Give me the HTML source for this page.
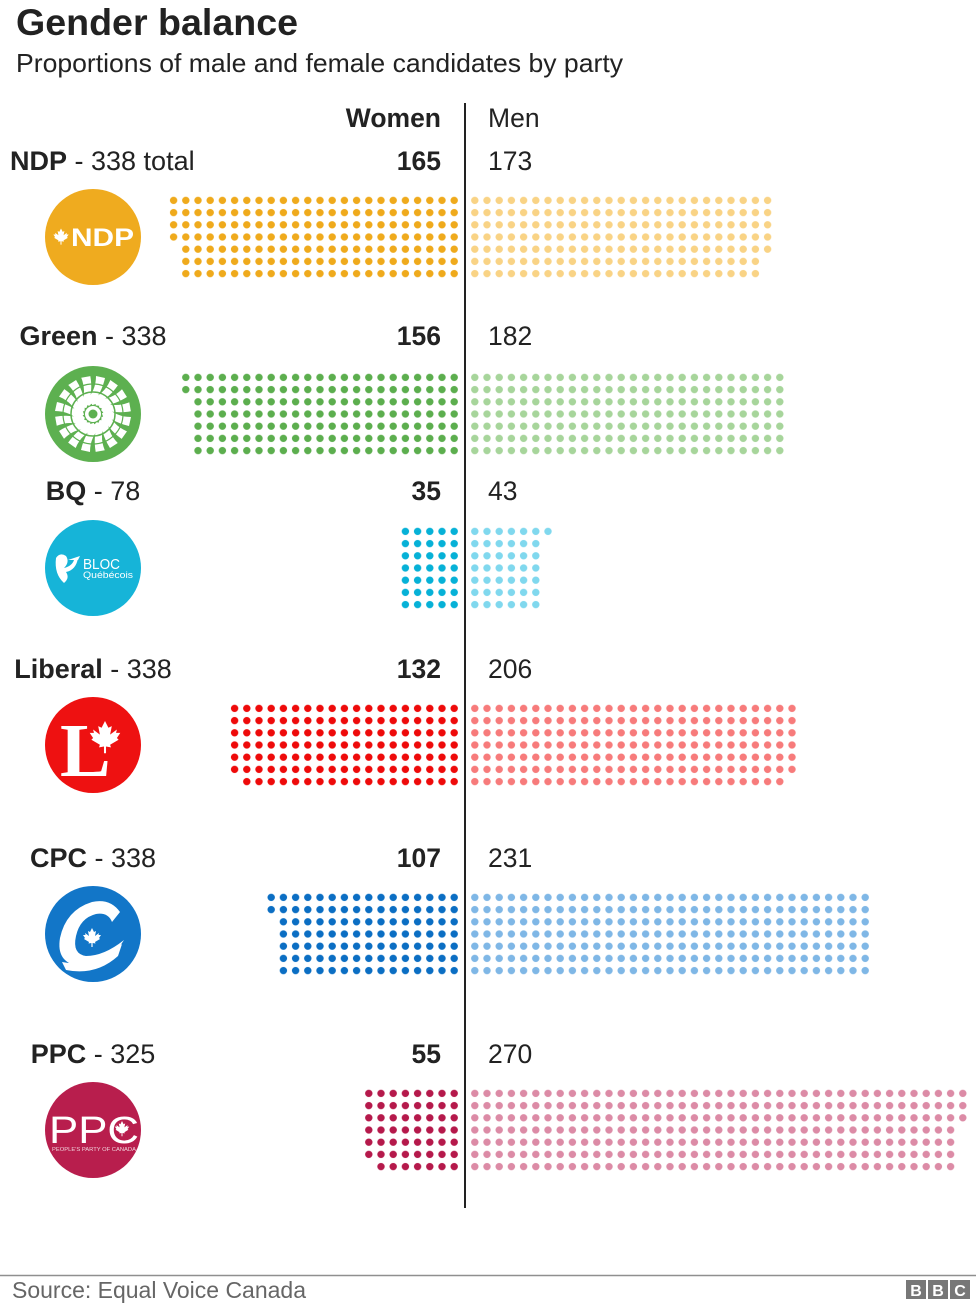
<!DOCTYPE html>
<html>
<head>
<meta charset="utf-8">
<style>
html,body{margin:0;padding:0;background:#fff;}
svg{display:block;}
text{font-family:"Liberation Sans",Arial,sans-serif;}
</style>
</head>
<body>
<svg width="976" height="1311" viewBox="0 0 976 1311" xmlns="http://www.w3.org/2000/svg">
<defs>
  <pattern id="ndpW" width="12.2" height="12.2" patternUnits="userSpaceOnUse"><circle cx="6.1" cy="6.1" r="3.7" fill="#EFAA1C"/></pattern>
  <pattern id="ndpM" width="12.2" height="12.2" patternUnits="userSpaceOnUse"><circle cx="6.1" cy="6.1" r="3.7" fill="#F9D385"/></pattern>
  <pattern id="grnW" width="12.2" height="12.2" patternUnits="userSpaceOnUse"><circle cx="6.1" cy="6.1" r="3.7" fill="#5CAE4E"/></pattern>
  <pattern id="grnM" width="12.2" height="12.2" patternUnits="userSpaceOnUse"><circle cx="6.1" cy="6.1" r="3.7" fill="#A7D59B"/></pattern>
  <pattern id="bqW" width="12.2" height="12.2" patternUnits="userSpaceOnUse"><circle cx="6.1" cy="6.1" r="3.7" fill="#06B1D7"/></pattern>
  <pattern id="bqM" width="12.2" height="12.2" patternUnits="userSpaceOnUse"><circle cx="6.1" cy="6.1" r="3.7" fill="#80D8EE"/></pattern>
  <pattern id="libW" width="12.2" height="12.2" patternUnits="userSpaceOnUse"><circle cx="6.1" cy="6.1" r="3.7" fill="#EE0A0A"/></pattern>
  <pattern id="libM" width="12.2" height="12.2" patternUnits="userSpaceOnUse"><circle cx="6.1" cy="6.1" r="3.7" fill="#F77B7B"/></pattern>
  <pattern id="cpcW" width="12.2" height="12.2" patternUnits="userSpaceOnUse"><circle cx="6.1" cy="6.1" r="3.7" fill="#0B6EC3"/></pattern>
  <pattern id="cpcM" width="12.2" height="12.2" patternUnits="userSpaceOnUse"><circle cx="6.1" cy="6.1" r="3.7" fill="#7FB7E6"/></pattern>
  <pattern id="ppcW" width="12.2" height="12.2" patternUnits="userSpaceOnUse"><circle cx="6.1" cy="6.1" r="3.7" fill="#B5194B"/></pattern>
  <pattern id="ppcM" width="12.2" height="12.2" patternUnits="userSpaceOnUse"><circle cx="6.1" cy="6.1" r="3.7" fill="#DC8BA6"/></pattern>
  <path id="leaf" d="M0,-10 L2,-6 L4,-7 L3,-2 L7,-5 L6.5,-3 L9,-3 L7,0 L8,1 L3,4 L3.5,5.5 L0.6,5 L0.6,9 L-0.6,9 L-0.6,5 L-3.5,5.5 L-3,4 L-8,1 L-7,0 L-9,-3 L-6.5,-3 L-7,-5 L-3,-2 L-4,-7 L-2,-6 Z" fill="#fff"/>
  <path id="petal" d="M-4,-8 Q8,-18 12,-36 L3,-38 Q3,-22 -9,-12 Z" fill="#fff"/>
</defs>

<!-- Title -->
<text x="16" y="35" font-size="37" font-weight="bold" fill="#222" textLength="282" lengthAdjust="spacingAndGlyphs">Gender balance</text>
<text x="16" y="72" font-size="26" fill="#222" textLength="607" lengthAdjust="spacingAndGlyphs">Proportions of male and female candidates by party</text>

<!-- Column headers -->
<text x="441" y="127" font-size="26.5" font-weight="bold" fill="#222" text-anchor="end">Women</text>
<text x="488" y="127" font-size="26.5" fill="#222">Men</text>

<!-- Center line -->
<line x1="465" y1="103" x2="465" y2="1208" stroke="#222" stroke-width="2"/>

<!-- NDP -->
<text x="10" y="170" font-size="27" fill="#222"><tspan font-weight="bold">NDP</tspan> - 338 total</text>
<text x="441" y="170" font-size="26.5" font-weight="bold" fill="#222" text-anchor="end">165</text>
<text x="488" y="170" font-size="26.5" fill="#222">173</text>
<circle cx="93" cy="237" r="48" fill="#EFAB1F"/>
<use href="#leaf" transform="translate(61,237) scale(0.85)"/>
<text x="71" y="246" font-size="25" font-weight="bold" fill="#fff" textLength="63" lengthAdjust="spacingAndGlyphs">NDP</text>
<g transform="translate(448.1,194.3)">
  <rect x="-268.4" y="0" width="280.6" height="85.4" fill="url(#ndpW)"/>
  <rect x="-280.6" y="0" width="12.2" height="48.8" fill="url(#ndpW)"/>
</g>
<g transform="translate(468.7,194.3)">
  <rect x="0" y="0" width="292.8" height="85.4" fill="url(#ndpM)"/>
  <rect x="292.8" y="0" width="12.2" height="61" fill="url(#ndpM)"/>
</g>

<!-- Green -->
<text x="93" y="345" font-size="27" fill="#222" text-anchor="middle"><tspan font-weight="bold">Green</tspan> - 338</text>
<text x="441" y="345" font-size="26.5" font-weight="bold" fill="#222" text-anchor="end">156</text>
<text x="488" y="345" font-size="26.5" fill="#222">182</text>
<circle cx="93" cy="414" r="48" fill="#5DB050"/>
<g transform="translate(93,414)">
  <use href="#petal" transform="rotate(0)"/>
  <use href="#petal" transform="rotate(22.5)"/>
  <use href="#petal" transform="rotate(45)"/>
  <use href="#petal" transform="rotate(67.5)"/>
  <use href="#petal" transform="rotate(90)"/>
  <use href="#petal" transform="rotate(112.5)"/>
  <use href="#petal" transform="rotate(135)"/>
  <use href="#petal" transform="rotate(157.5)"/>
  <use href="#petal" transform="rotate(180)"/>
  <use href="#petal" transform="rotate(202.5)"/>
  <use href="#petal" transform="rotate(225)"/>
  <use href="#petal" transform="rotate(247.5)"/>
  <use href="#petal" transform="rotate(270)"/>
  <use href="#petal" transform="rotate(292.5)"/>
  <use href="#petal" transform="rotate(315)"/>
  <use href="#petal" transform="rotate(337.5)"/>
  <circle cx="0" cy="0" r="8" fill="#fff"/>
  <circle cx="0" cy="0" r="4.5" fill="#5DB050"/>
  <circle cx="0" cy="0" r="22" fill="none" stroke="#5DB050" stroke-width="1.5"/>
  <circle cx="0" cy="0" r="30" fill="none" stroke="#5DB050" stroke-width="1.2"/>
</g>
<g transform="translate(448.1,371.3)">
  <rect x="-256.2" y="0" width="268.4" height="85.4" fill="url(#grnW)"/>
  <rect x="-268.4" y="0" width="12.2" height="24.4" fill="url(#grnW)"/>
</g>
<g transform="translate(468.7,371.3)">
  <rect x="0" y="0" width="317.2" height="85.4" fill="url(#grnM)"/>
</g>

<!-- BQ -->
<text x="93" y="500" font-size="27" fill="#222" text-anchor="middle"><tspan font-weight="bold">BQ</tspan> - 78</text>
<text x="441" y="500" font-size="26.5" font-weight="bold" fill="#222" text-anchor="end">35</text>
<text x="488" y="500" font-size="26.5" fill="#222">43</text>
<circle cx="93" cy="568" r="48" fill="#16B4D8"/>
<path d="M56,558 Q60,552 66,556 Q70,562 64,568 Q72,566 74,560 L78,558 Q76,570 66,572 Q70,578 64,583 Q54,574 56,558 Z" fill="#fff"/>
<path d="M68,560 L80,556 L78,560 Z" fill="#fff"/>
<text x="83" y="569" font-size="15" fill="#fff" textLength="37" lengthAdjust="spacingAndGlyphs">BLOC</text>
<text x="83" y="578" font-size="9" fill="#fff" textLength="50" lengthAdjust="spacingAndGlyphs">Québécois</text>
<g transform="translate(448.1,525.3)">
  <rect x="-48.8" y="0" width="61" height="85.4" fill="url(#bqW)"/>
</g>
<g transform="translate(468.7,525.3)">
  <rect x="0" y="0" width="73.2" height="85.4" fill="url(#bqM)"/>
  <rect x="73.2" y="0" width="12.2" height="12.2" fill="url(#bqM)"/>
</g>

<!-- Liberal -->
<text x="93" y="678" font-size="27" fill="#222" text-anchor="middle"><tspan font-weight="bold">Liberal</tspan> - 338</text>
<text x="441" y="678" font-size="26.5" font-weight="bold" fill="#222" text-anchor="end">132</text>
<text x="488" y="678" font-size="26.5" fill="#222">206</text>
<circle cx="93" cy="745" r="48" fill="#EE1111"/>
<text x="60" y="776" font-size="76" font-weight="bold" fill="#fff" style="font-family:'Liberation Serif',serif">L</text>
<use href="#leaf" transform="translate(105,738) scale(1.7)"/>
<g transform="translate(448.1,702.3)">
  <rect x="-207.4" y="0" width="219.6" height="85.4" fill="url(#libW)"/>
  <rect x="-219.6" y="0" width="12.2" height="73.2" fill="url(#libW)"/>
</g>
<g transform="translate(468.7,702.3)">
  <rect x="0" y="0" width="317.2" height="85.4" fill="url(#libM)"/>
  <rect x="317.2" y="0" width="12.2" height="73.2" fill="url(#libM)"/>
</g>

<!-- CPC -->
<text x="93" y="867" font-size="27" fill="#222" text-anchor="middle"><tspan font-weight="bold">CPC</tspan> - 338</text>
<text x="441" y="867" font-size="26.5" font-weight="bold" fill="#222" text-anchor="end">107</text>
<text x="488" y="867" font-size="26.5" fill="#222">231</text>
<circle cx="93" cy="934" r="48" fill="#1276C8"/>
<path d="M120,912 Q110,898 92,902 Q66,910 60,938 Q56,962 78,966 Q98,968 116,952 L124,940 Q104,956 86,956 Q72,954 76,936 Q80,918 96,914 Q108,912 112,922 Z" fill="#fff"/>
<path d="M62,962 Q90,968 122,944 L118,956 Q96,976 66,970 Z" fill="#fff"/>
<use href="#leaf" transform="translate(92,938) scale(1.0)"/>
<g transform="translate(448.1,891.3)">
  <rect x="-170.8" y="0" width="183" height="85.4" fill="url(#cpcW)"/>
  <rect x="-183" y="0" width="12.2" height="24.4" fill="url(#cpcW)"/>
</g>
<g transform="translate(468.7,891.3)">
  <rect x="0" y="0" width="402.6" height="85.4" fill="url(#cpcM)"/>
</g>

<!-- PPC -->
<text x="93" y="1063" font-size="27" fill="#222" text-anchor="middle"><tspan font-weight="bold">PPC</tspan> - 325</text>
<text x="441" y="1063" font-size="26.5" font-weight="bold" fill="#222" text-anchor="end">55</text>
<text x="488" y="1063" font-size="26.5" fill="#222">270</text>
<circle cx="93" cy="1130" r="48" fill="#B81E4D"/>
<text x="49" y="1143" font-size="38" fill="#fff" textLength="90" lengthAdjust="spacingAndGlyphs">PPC</text>
<use href="#leaf" transform="translate(122,1129) scale(0.8)"/>
<text x="52" y="1151" font-size="5" fill="#fff" textLength="84" lengthAdjust="spacingAndGlyphs" opacity="0.8">PEOPLE'S PARTY OF CANADA</text>
<g transform="translate(448.1,1087.3)">
  <rect x="-73.2" y="0" width="85.4" height="85.4" fill="url(#ppcW)"/>
  <rect x="-85.4" y="0" width="12.2" height="73.2" fill="url(#ppcW)"/>
</g>
<g transform="translate(468.7,1087.3)">
  <rect x="0" y="0" width="488" height="85.4" fill="url(#ppcM)"/>
  <rect x="488" y="0" width="12.2" height="36.6" fill="url(#ppcM)"/>
</g>

<!-- Footer -->
<line x1="0" y1="1275.5" x2="976" y2="1275.5" stroke="#8f8f8f" stroke-width="1.5"/>
<text x="12" y="1298" font-size="23" fill="#666" textLength="294" lengthAdjust="spacingAndGlyphs">Source: Equal Voice Canada</text>
<rect x="906" y="1280" width="20" height="19" fill="#777"/>
<rect x="928" y="1280" width="20" height="19" fill="#777"/>
<rect x="950" y="1280" width="20" height="19" fill="#777"/>
<text x="916" y="1296" font-size="16" font-weight="bold" fill="#fff" text-anchor="middle">B</text>
<text x="938" y="1296" font-size="16" font-weight="bold" fill="#fff" text-anchor="middle">B</text>
<text x="960" y="1296" font-size="16" font-weight="bold" fill="#fff" text-anchor="middle">C</text>
</svg>
</body>
</html>
